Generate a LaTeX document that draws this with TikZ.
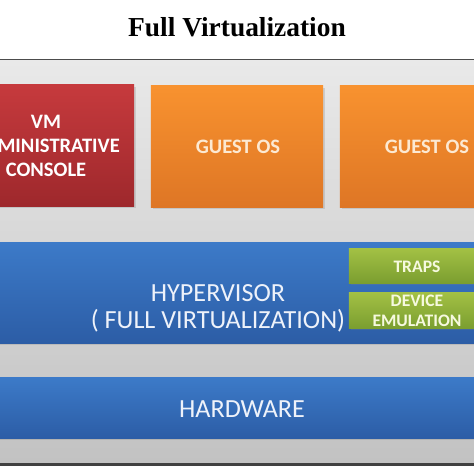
\documentclass[tikz,border=0pt]{standalone}
\usepackage{fontspec}
\setmainfont{Carlito}
\newfontfamily\titlefont{Liberation Serif}
\usetikzlibrary{shadings,shadows}
\definecolor{redT}{HTML}{C63A3D}
\definecolor{redB}{HTML}{9E282C}
\definecolor{orT}{HTML}{F8922F}
\definecolor{orB}{HTML}{DE7625}
\definecolor{blT}{HTML}{3C7AC8}
\definecolor{blB}{HTML}{2C5DA6}
\definecolor{grT}{HTML}{A2C044}
\definecolor{grB}{HTML}{7B9E30}
\definecolor{panT}{HTML}{E9E9E9}
\definecolor{panB}{HTML}{C2C2C2}
\definecolor{txtOr}{HTML}{FCE9D2}
\definecolor{txtBl}{HTML}{EEF2FA}
\definecolor{txtGr}{HTML}{F6F9DF}
\tikzset{
  layer/.style={draw=none, rectangle, inner sep=0pt,
    drop shadow={opacity=0.25, shadow xshift=1.5pt, shadow yshift=-1.5pt}},
  redbox/.style={layer, top color=redT, bottom color=redB},
  orbox/.style={layer, top color=orT, bottom color=orB},
  blbox/.style={layer, top color=blT, bottom color=blB},
  grbox/.style={layer, top color=grT, bottom color=grB},
  boldlbl/.style={font=\bfseries\fontsize{14.6}{17}\selectfont, align=center},
  biglbl/.style={font=\fontsize{18.6}{19.2}\selectfont, text=txtBl, align=center},
  smalllbl/.style={font=\bfseries\fontsize{12.5}{14.3}\selectfont, text=txtGr, align=center}
}
\begin{document}
\begin{tikzpicture}[x=0.025cm,y=-0.025cm]
\useasboundingbox (0,0) rectangle (474,474);
\clip (0,0) rectangle (474,474);
\fill[white] (0,0) rectangle (474,474);
% title
\node[font=\titlefont\bfseries\fontsize{19.5}{22}\selectfont] (title) at (237,27) {Full Virtualization};
% panel
\shade[top color=panT, bottom color=panB] (0,60) rectangle (474,463);
\draw[line width=1pt, black!70] (0,59.5) -- (474,59.5);
\draw[line width=2pt, black!75] (0,464.5) -- (474,464.5);
% VM row
\node[redbox, minimum width=4.35cm, minimum height=3.025cm] (vm) at (47,145.5) {};
\node[boldlbl, text=white] (vmtxt) at (46,146) {VM\\ADMINISTRATIVE\\CONSOLE};
\node[orbox, minimum width=4.3cm, minimum height=3.025cm] (g1) at (237,146.5) {};
\node[boldlbl, text=txtOr] (g1txt) at (238,147) {GUEST OS};
\node[orbox, minimum width=4.35cm, minimum height=3.025cm] (g2) at (427,146.5) {};
\node[boldlbl, text=txtOr] (g2txt) at (427,147) {GUEST OS};
% hypervisor
\node[blbox, minimum width=12.35cm, minimum height=2.5cm] (hyp) at (237,293) {};
\node[biglbl] (hyptxt) at (218,308.5) {HYPERVISOR\\( FULL VIRTUALIZATION)};
\node[grbox, minimum width=3.4cm, minimum height=0.85cm] (traps) at (417,266) {};
\node[smalllbl] (trapstxt) at (417,266.5) {TRAPS};
\node[grbox, minimum width=3.4cm, minimum height=0.875cm] (dev) at (417,310.5) {};
\node[smalllbl] (devtxt) at (417,310.5) {DEVICE\\EMULATION};
% hardware
\node[blbox, minimum width=12.35cm, minimum height=1.5cm] (hw) at (237,408) {};
\node[biglbl] (hwtxt) at (242,409) {HARDWARE};
\end{tikzpicture}
\end{document}
